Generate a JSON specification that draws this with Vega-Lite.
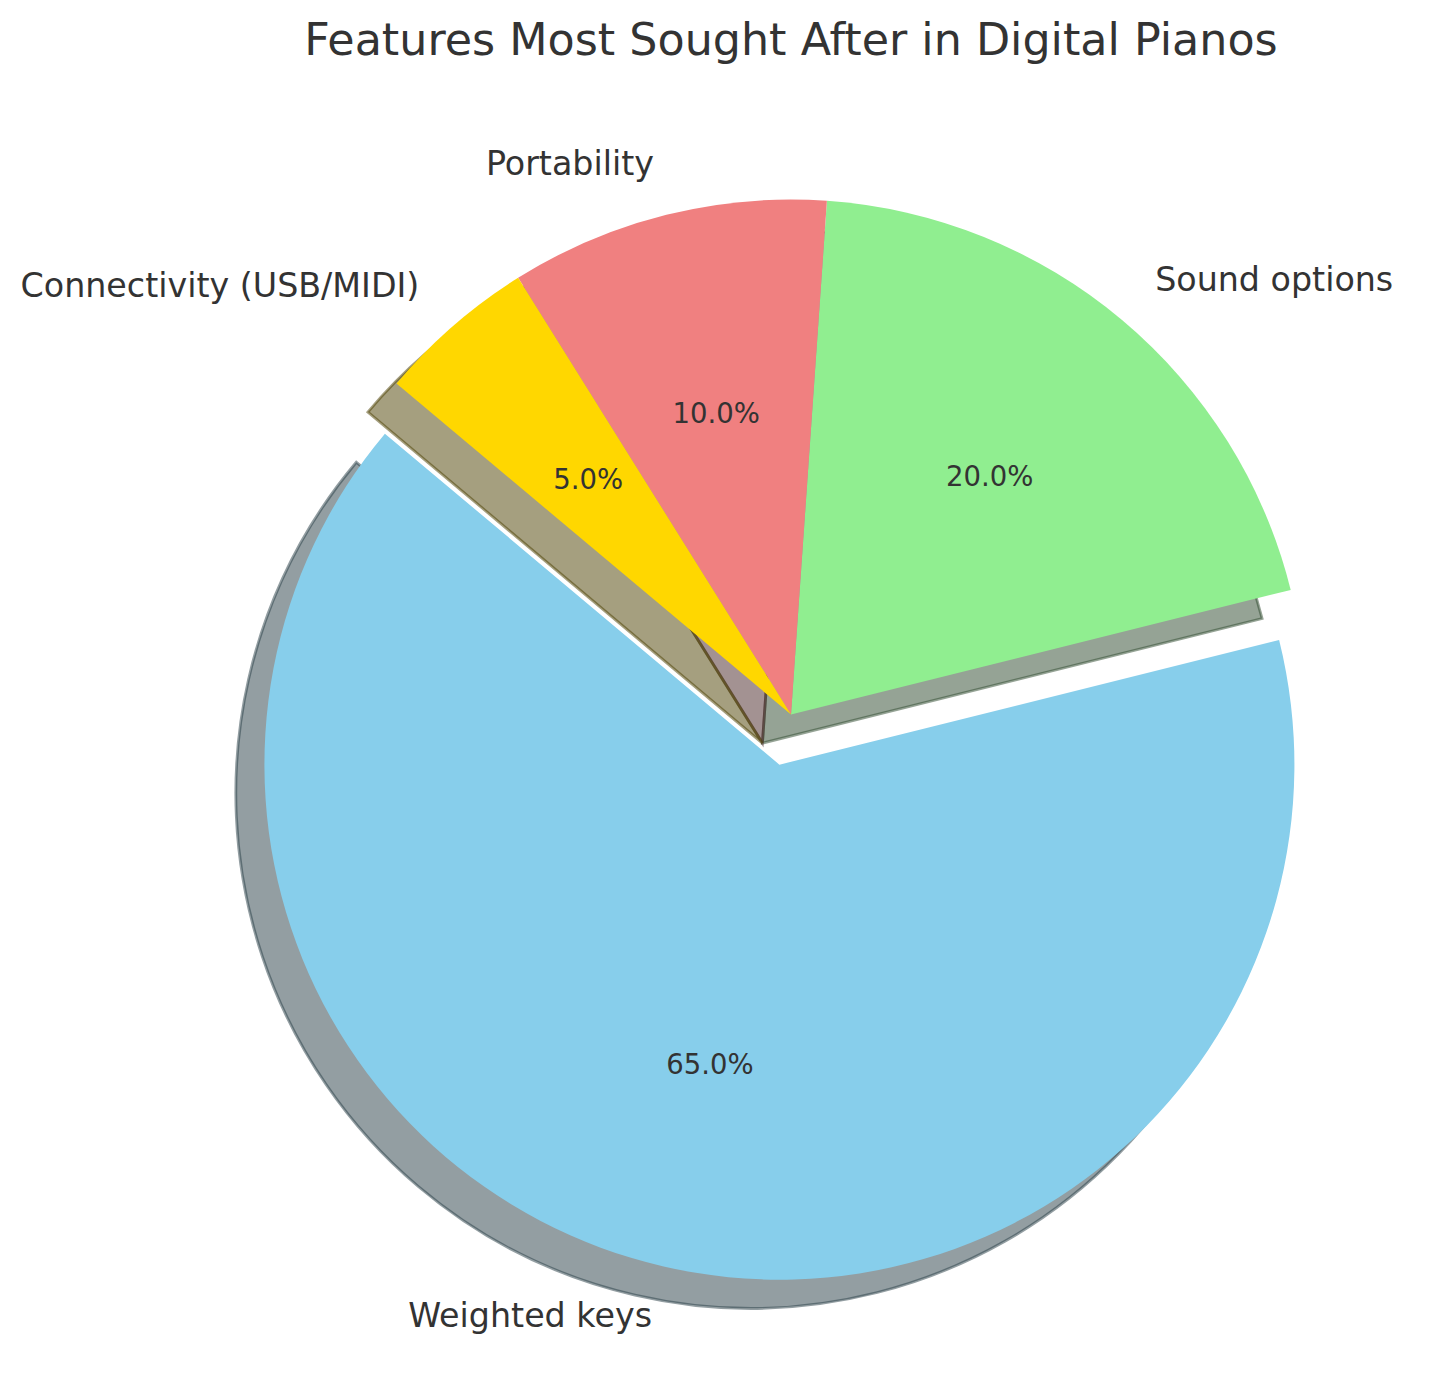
{
  "$schema": "https://vega.github.io/schema/vega-lite/v6.json",
  "width": 1330,
  "height": 1331,
  "autosize": {"type": "none"},
  "padding": {"left": 126, "top": 49, "right": 0, "bottom": 0},
  "background": "white",
  "config": {"view": {"stroke": null}},
  "title": {
    "text": "Features Most Sought After in Digital Pianos",
    "font": "DejaVu Sans",
    "fontSize": 44.4,
    "fontWeight": "normal",
    "color": "#333333",
    "anchor": "middle",
    "baseline": "alphabetic",
    "offset": 0,
    "dy": 50
  },
  "data": {
    "values": [
      {"Feature": "Weighted keys", "Percentage": 65, "PctLabel": "65.0%"},
      {"Feature": "Sound options", "Percentage": 20, "PctLabel": "20.0%"},
      {"Feature": "Portability", "Percentage": 10, "PctLabel": "10.0%"},
      {"Feature": "Connectivity (USB/MIDI)", "Percentage": 5, "PctLabel": "5.0%"}
    ]
  },
  "layer": [
    {
      "transform": [
        {"stack": "Percentage", "groupby": [], "sort": [{"field": "Percentage", "order": "ascending"}], "as": ["p0", "p1"]},
        {"filter": "datum.Feature !== 'Weighted keys'"}
      ],
      "mark": {"type": "arc", "outerRadius": 515, "innerRadius": 0, "xOffset": -28.6, "yOffset": 28.6, "fillOpacity": 0.5, "strokeOpacity": 0.5, "strokeWidth": 2.8},
      "encoding": {
        "theta": {"field": "p0", "type": "quantitative", "scale": {"domain": [0, 100], "range": [5.410521, 11.693706]}},
        "theta2": {"field": "p1"},
        "fill": {"field": "Feature", "type": "nominal", "legend": null, "scale": {"domain": ["Weighted keys", "Sound options", "Portability", "Connectivity (USB/MIDI)"], "range": ["#283e46", "#2b472b", "#482626", "#4c4000"]}},
        "stroke": {"field": "Feature", "type": "nominal", "legend": null, "scale": {"domain": ["Weighted keys", "Sound options", "Portability", "Connectivity (USB/MIDI)"], "range": ["#283e46", "#2b472b", "#482626", "#4c4000"]}}
      }
    },
    {
      "transform": [
        {"stack": "Percentage", "groupby": [], "sort": [{"field": "Percentage", "order": "ascending"}], "as": ["p0", "p1"]},
        {"filter": "datum.Feature === 'Weighted keys'"}
      ],
      "mark": {"type": "arc", "outerRadius": 515, "innerRadius": 0, "xOffset": -40.185, "yOffset": 78.78, "fillOpacity": 0.5, "strokeOpacity": 0.5, "strokeWidth": 2.8},
      "encoding": {
        "theta": {"field": "p0", "type": "quantitative", "scale": {"domain": [0, 100], "range": [5.410521, 11.693706]}},
        "theta2": {"field": "p1"},
        "fill": {"field": "Feature", "type": "nominal", "legend": null, "scale": {"domain": ["Weighted keys", "Sound options", "Portability", "Connectivity (USB/MIDI)"], "range": ["#283e46", "#2b472b", "#482626", "#4c4000"]}},
        "stroke": {"field": "Feature", "type": "nominal", "legend": null, "scale": {"domain": ["Weighted keys", "Sound options", "Portability", "Connectivity (USB/MIDI)"], "range": ["#283e46", "#2b472b", "#482626", "#4c4000"]}}
      }
    },
    {
      "transform": [
        {"stack": "Percentage", "groupby": [], "sort": [{"field": "Percentage", "order": "ascending"}], "as": ["p0", "p1"]},
        {"filter": "datum.Feature !== 'Weighted keys'"}
      ],
      "mark": {"type": "arc", "outerRadius": 515, "innerRadius": 0},
      "encoding": {
        "theta": {"field": "p0", "type": "quantitative", "scale": {"domain": [0, 100], "range": [5.410521, 11.693706]}},
        "theta2": {"field": "p1"},
        "color": {"field": "Feature", "type": "nominal", "legend": null, "scale": {"domain": ["Weighted keys", "Sound options", "Portability", "Connectivity (USB/MIDI)"], "range": ["#87ceeb", "#90ee90", "#f08080", "#ffd700"]}}
      }
    },
    {
      "transform": [
        {"stack": "Percentage", "groupby": [], "sort": [{"field": "Percentage", "order": "ascending"}], "as": ["p0", "p1"]},
        {"filter": "datum.Feature === 'Weighted keys'"}
      ],
      "mark": {"type": "arc", "outerRadius": 515, "innerRadius": 0, "xOffset": -11.585, "yOffset": 50.18},
      "encoding": {
        "theta": {"field": "p0", "type": "quantitative", "scale": {"domain": [0, 100], "range": [5.410521, 11.693706]}},
        "theta2": {"field": "p1"},
        "color": {"field": "Feature", "type": "nominal", "legend": null, "scale": {"domain": ["Weighted keys", "Sound options", "Portability", "Connectivity (USB/MIDI)"], "range": ["#87ceeb", "#90ee90", "#f08080", "#ffd700"]}}
      }
    },
    {
      "mark": {"type": "text", "radius": 566.5, "align": "right", "baseline": "middle", "font": "DejaVu Sans", "fontSize": 33.3, "color": "#333333"},
      "encoding": {
        "theta": {"field": "Percentage", "type": "quantitative", "stack": true, "scale": {"domain": [0, 100], "range": [5.410521, 11.693706]}},
        "order": {"field": "Percentage", "sort": "ascending"},
        "text": {"condition": {"test": "datum.Feature === 'Portability' || datum.Feature === 'Connectivity (USB/MIDI)'", "field": "Feature", "type": "nominal"}, "value": ""}
      }
    },
    {
      "mark": {"type": "text", "radius": 566.5, "align": "left", "baseline": "middle", "font": "DejaVu Sans", "fontSize": 33.3, "color": "#333333"},
      "encoding": {
        "theta": {"field": "Percentage", "type": "quantitative", "stack": true, "scale": {"domain": [0, 100], "range": [5.410521, 11.693706]}},
        "order": {"field": "Percentage", "sort": "ascending"},
        "text": {"condition": {"test": "datum.Feature === 'Sound options'", "field": "Feature", "type": "nominal"}, "value": ""}
      }
    },
    {
      "mark": {"type": "text", "radius": 618, "align": "right", "baseline": "middle", "font": "DejaVu Sans", "fontSize": 33.3, "color": "#333333"},
      "encoding": {
        "theta": {"field": "Percentage", "type": "quantitative", "stack": true, "scale": {"domain": [0, 100], "range": [5.410521, 11.693706]}},
        "order": {"field": "Percentage", "sort": "ascending"},
        "text": {"condition": {"test": "datum.Feature === 'Weighted keys'", "field": "Feature", "type": "nominal"}, "value": ""}
      }
    },
    {
      "mark": {"type": "text", "radius": 309, "align": "center", "baseline": "middle", "font": "DejaVu Sans", "fontSize": 27.5, "color": "#333333"},
      "encoding": {
        "theta": {"field": "Percentage", "type": "quantitative", "stack": true, "scale": {"domain": [0, 100], "range": [5.410521, 11.693706]}},
        "order": {"field": "Percentage", "sort": "ascending"},
        "text": {"condition": {"test": "datum.Feature !== 'Weighted keys'", "field": "PctLabel", "type": "nominal"}, "value": ""}
      }
    },
    {
      "mark": {"type": "text", "radius": 360.5, "align": "center", "baseline": "middle", "font": "DejaVu Sans", "fontSize": 27.5, "color": "#333333"},
      "encoding": {
        "theta": {"field": "Percentage", "type": "quantitative", "stack": true, "scale": {"domain": [0, 100], "range": [5.410521, 11.693706]}},
        "order": {"field": "Percentage", "sort": "ascending"},
        "text": {"condition": {"test": "datum.Feature === 'Weighted keys'", "field": "PctLabel", "type": "nominal"}, "value": ""}
      }
    }
  ]
}
